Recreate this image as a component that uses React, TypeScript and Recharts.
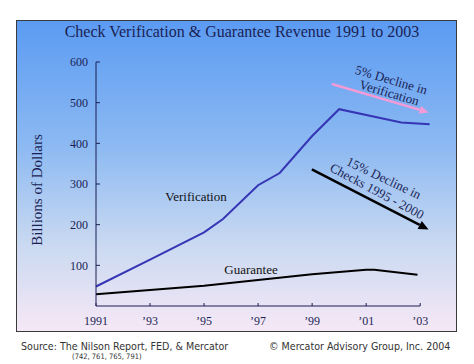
import { LineChart, Line, XAxis, YAxis, ReferenceLine } from "recharts";

// values (billions of dollars)
const VER_YEARS = [1991, 1993, 1995, 1995.7, 1997, 1997.8, 1999, 2000, 2002.3, 2003.35];
const VER_VALUES = [48, 114, 181, 214, 297, 327, 418, 484, 451, 447];
const GUA_YEARS = [1991, 1995, 1997, 1999, 2001, 2001.3, 2002.9];
const GUA_VALUES = [29, 50, 64, 78, 89, 89, 77];

const X_TICKS = [1991, 1993, 1995, 1997, 1999, 2001, 2003];
const X_LABELS = ["1991", "\u201993", "\u201995", "\u201997", "\u201999", "\u201901", "\u201903"];
const Y_TICKS = [100, 200, 300, 400, 500, 600];

const verification = VER_YEARS.map((year, i) => ({ year, value: VER_VALUES[i] }));
const guarantee = GUA_YEARS.map((year, i) => ({ year, value: GUA_VALUES[i] }));

const NAVY = "#1b1f55";
const SERIF = "'Liberation Serif', 'Times New Roman', serif";
const SANS = "'DejaVu Sans Condensed', 'DejaVu Sans', sans-serif";

function Arrow(props: any) {
  const { x1, y1, x2, y2, color, head, width } = props;
  const a = Math.atan2(y2 - y1, x2 - x1);
  const bx = x2 - head * Math.cos(a);
  const by = y2 - head * Math.sin(a);
  const px = Math.sin(a) * head * 0.45;
  const py = -Math.cos(a) * head * 0.45;
  return (
    <g>
      <line x1={x1} y1={y1} x2={bx} y2={by} stroke={color} strokeWidth={width} />
      <polygon points={`${x2},${y2} ${bx + px},${by + py} ${bx - px},${by - py}`} fill={color} />
    </g>
  );
}

export default function App() {
  return (
    <div style={{ position: "absolute", left: 0, top: 0, width: 474, height: 364, background: "#fff" }}>
      <div
        style={{
          position: "absolute",
          left: 16,
          top: 20,
          width: 441,
          height: 312,
          boxSizing: "border-box",
          border: "1px solid #3a3a3a",
          background: "linear-gradient(to bottom, #5b9bf2 0%, #8cb9f2 40%, #c9d9f1 72%, #f6e8f6 100%)",
        }}
      />
      <LineChart
        width={474}
        height={364}
        margin={{ top: 62, right: 43, bottom: 28, left: 36 }}
        style={{ position: "absolute", left: 0, top: 0 }}
      >
        <XAxis
          dataKey="year"
          type="number"
          domain={[1991, 2003.4]}
          ticks={X_TICKS}
          tickFormatter={(v: number) => X_LABELS[X_TICKS.indexOf(v)]}
          axisLine={false}
          tickLine={{ stroke: NAVY }}
          tickSize={-3}
          tickMargin={13}
          height={30}
          tick={{ fill: NAVY, fontSize: 12, fontFamily: SERIF }}
        />
        <YAxis
          type="number"
          domain={[0, 600]}
          ticks={Y_TICKS}
          width={60}
          axisLine={{ stroke: NAVY }}
          tickLine={{ stroke: NAVY }}
          tickSize={-4}
          tickMargin={12}
          tick={{ fill: NAVY, fontSize: 12, fontFamily: SERIF }}
        />
        <ReferenceLine segment={[{ x: 1991, y: 0 }, { x: 2003, y: 0 }]} stroke={NAVY} strokeWidth={1} />
        <ReferenceLine
          segment={[{ x: 1999.73, y: 546 }, { x: 2003.31, y: 476 }]}
          shape={(p: any) => <Arrow {...p} color="#f29bd6" head={9} width={2.5} />}
        />
        <ReferenceLine
          segment={[{ x: 1998.99, y: 336 }, { x: 2003.31, y: 188 }]}
          shape={(p: any) => <Arrow {...p} color="#000" head={10} width={2.5} />}
        />
        <Line
          data={verification}
          dataKey="value"
          type="linear"
          stroke="#3535b5"
          strokeWidth={2}
          dot={false}
          isAnimationActive={false}
        />
        <Line
          data={guarantee}
          dataKey="value"
          type="linear"
          stroke="#000"
          strokeWidth={2}
          dot={false}
          isAnimationActive={false}
        />
      </LineChart>
      <svg width={474} height={364} style={{ position: "absolute", left: 0, top: 0, pointerEvents: "none" }}>
        <text x={242} y={37} textAnchor="middle" fontFamily={SERIF} fontSize={16} fill={NAVY}>
          Check Verification &amp; Guarantee Revenue 1991 to 2003
        </text>
        <text
          transform="translate(42,190) rotate(-90)"
          textAnchor="middle"
          fontFamily={SERIF}
          fontSize={15}
          fill={NAVY}
        >
          Billions of Dollars
        </text>
        <text x={196} y={201} textAnchor="middle" fontFamily={SERIF} fontSize={13} fill="#111">
          Verification
        </text>
        <text x={251} y={274} textAnchor="middle" fontFamily={SERIF} fontSize={13} fill="#111">
          Guarantee
        </text>
        <g fontFamily={SERIF} fontSize={13} fill={NAVY} textAnchor="middle">
          <text transform="translate(390,84) rotate(16.5)">5% Decline in</text>
          <text transform="translate(388,97) rotate(16.5)">Verification</text>
          <text transform="translate(382,182) rotate(25.5)">15% Decline in</text>
          <text transform="translate(375,195) rotate(28)">Checks 1995 - 2000</text>
        </g>
        <text x={21} y={350} fontFamily={SANS} fontSize={10.6} fill="#333">
          Source: The Nilson Report, FED, &amp; Mercator
        </text>
        <text x={72} y={359} fontFamily={SANS} fontSize={7.5} fill="#333">
          (742, 761, 765, 791)
        </text>
        <text x={269} y={350} fontFamily={SANS} fontSize={10.6} fill="#333">
          © Mercator Advisory Group, Inc. 2004
        </text>
      </svg>
    </div>
  );
}
